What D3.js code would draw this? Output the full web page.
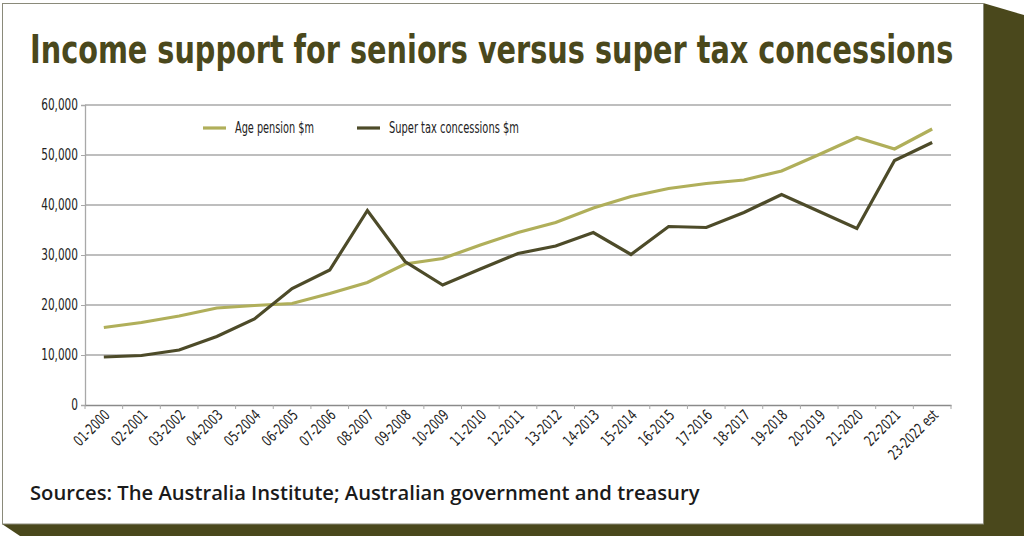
<!DOCTYPE html>
<html><head><meta charset="utf-8">
<script src="https://cdn.jsdelivr.net/npm/d3@7/dist/d3.min.js"></script>
<style>
html,body{margin:0;padding:0;background:#fff;}
svg{display:block;}
</style></head>
<body>
<svg id="chart" width="1024" height="536"></svg>
<script>
const categories = ["01-2000","02-2001","03-2002","04-2003","05-2004","06-2005","07-2006","08-2007","09-2008","10-2009","11-2010","12-2011","13-2012","14-2013","15-2014","16-2015","17-2016","18-2017","19-2018","20-2019","21-2020","22-2021","23-2022 est"];
const agePension = [15500,16500,17800,19400,19900,20300,22300,24500,28200,29300,32000,34500,36500,39400,41700,43300,44300,45000,46800,50100,53500,51200,55200];
const superTax = [9600,9900,11000,13700,17200,23300,27000,38900,28700,24000,27200,30300,31800,34500,30100,35700,35500,38500,42100,38700,35300,48900,52500];
const yTicks = [0,10000,20000,30000,40000,50000,60000];
const seriesNames = ["Age pension $m","Super tax concessions $m"];
const colors = ["#b0af5a","#4d4b29"];

const FONT = "'DejaVu Sans Condensed','DejaVu Sans',sans-serif";
const svg = d3.select("#chart");
const dark = "#4a481c";

// horizontally scale a text (anchored at its x) to a target width
function fitText(sel, x0, y0, width){
  const len = sel.node().getComputedTextLength();
  const s = width/len;
  sel.attr("x",0).attr("y",0).attr("transform",`translate(${x0},${y0}) scale(${s},1)`);
}

// 3D box sides
svg.append("polygon").attr("points","983,3 1024,15 1024,536 983,536").attr("fill",dark);
svg.append("polygon").attr("points","2,524 983,524 983,536 20,536").attr("fill",dark);
svg.append("rect").attr("x",2.5).attr("y",3.5).attr("width",981).attr("height",520.5)
  .attr("fill","#fff").attr("stroke","#8a8a7a").attr("stroke-width",1);

// title
const title = svg.append("text").attr("font-family",FONT)
  .attr("font-weight","bold").attr("font-size",39).attr("fill","#4a481c")
  .text("Income support for seniors versus super tax concessions");
fitText(title, 30, 63, 924);

const m = {l:85, r:951, t:105, b:405};
const x = d3.scaleBand().domain(categories).range([m.l,m.r]);
const y = d3.scaleLinear().domain([0,60000]).range([m.b,m.t]);

// grid
svg.append("g").selectAll("line").data(yTicks.filter(d=>d>0)).join("line")
  .attr("x1",m.l).attr("x2",m.r).attr("y1",d=>y(d)).attr("y2",d=>y(d))
  .attr("stroke","#a8a8a8").attr("stroke-width",1.3);

// y axis
const yAxis = svg.append("g").attr("transform",`translate(${m.l},0)`)
  .call(d3.axisLeft(y).tickValues(yTicks).tickSize(4).tickPadding(7).tickFormat(d3.format(",")));
yAxis.select(".domain").attr("stroke","#a8a8a8").attr("stroke-width",1.3);
yAxis.selectAll(".tick line").attr("stroke","#a8a8a8");
yAxis.selectAll(".tick text").attr("font-family",FONT).attr("font-size",15).attr("fill","#222")
  .attr("transform","scale(0.78,1)").attr("x",-9);

// x axis
const xAxis = svg.append("g").attr("transform",`translate(0,${m.b})`)
  .call(d3.axisBottom(x).tickSize(0).tickPadding(6));
xAxis.select(".domain").attr("stroke","#8a8a8a").attr("stroke-width",1.3);
xAxis.selectAll(".tick line").remove();
xAxis.append("g").selectAll("line").data(d3.range(categories.length+1)).join("line")
  .attr("x1",i=>m.l + i*x.step()).attr("x2",i=>m.l + i*x.step()).attr("y1",0).attr("y2",4)
  .attr("stroke","#a8a8a8");
xAxis.selectAll(".tick text")
  .attr("font-family",FONT).attr("font-size",15).attr("fill","#222")
  .attr("text-anchor","end").attr("dy",null).attr("y",0)
  .attr("transform","translate(7,11) rotate(-45) scale(0.78,1)");

// lines
const line = d3.line().x((d,i)=>x(categories[i])+x.bandwidth()/2).y(d=>y(d));
[agePension, superTax].forEach((s,k)=>{
  svg.append("path").datum(s).attr("d",line).attr("fill","none")
    .attr("stroke",colors[k]).attr("stroke-width",3.2).attr("stroke-linejoin","miter");
});

// legend
const legX = [203,357];
const legW = [79,130];
seriesNames.forEach((n,k)=>{
  svg.append("line").attr("x1",legX[k]).attr("x2",legX[k]+23).attr("y1",128).attr("y2",128)
    .attr("stroke",colors[k]).attr("stroke-width",3.2);
  const t = svg.append("text").attr("font-family",FONT)
    .attr("font-size",15).attr("fill","#222").text(n);
  fitText(t, legX[k]+32, 133, legW[k]);
});

// source
const src = svg.append("text").attr("font-family","'Open Sans','DejaVu Sans',sans-serif")
  .attr("font-weight",600).attr("font-size",20).attr("fill","#1a1a1a")
  .text("Sources: The Australia Institute; Australian government and treasury");
fitText(src, 30, 500, 670);
</script>
</body></html>
